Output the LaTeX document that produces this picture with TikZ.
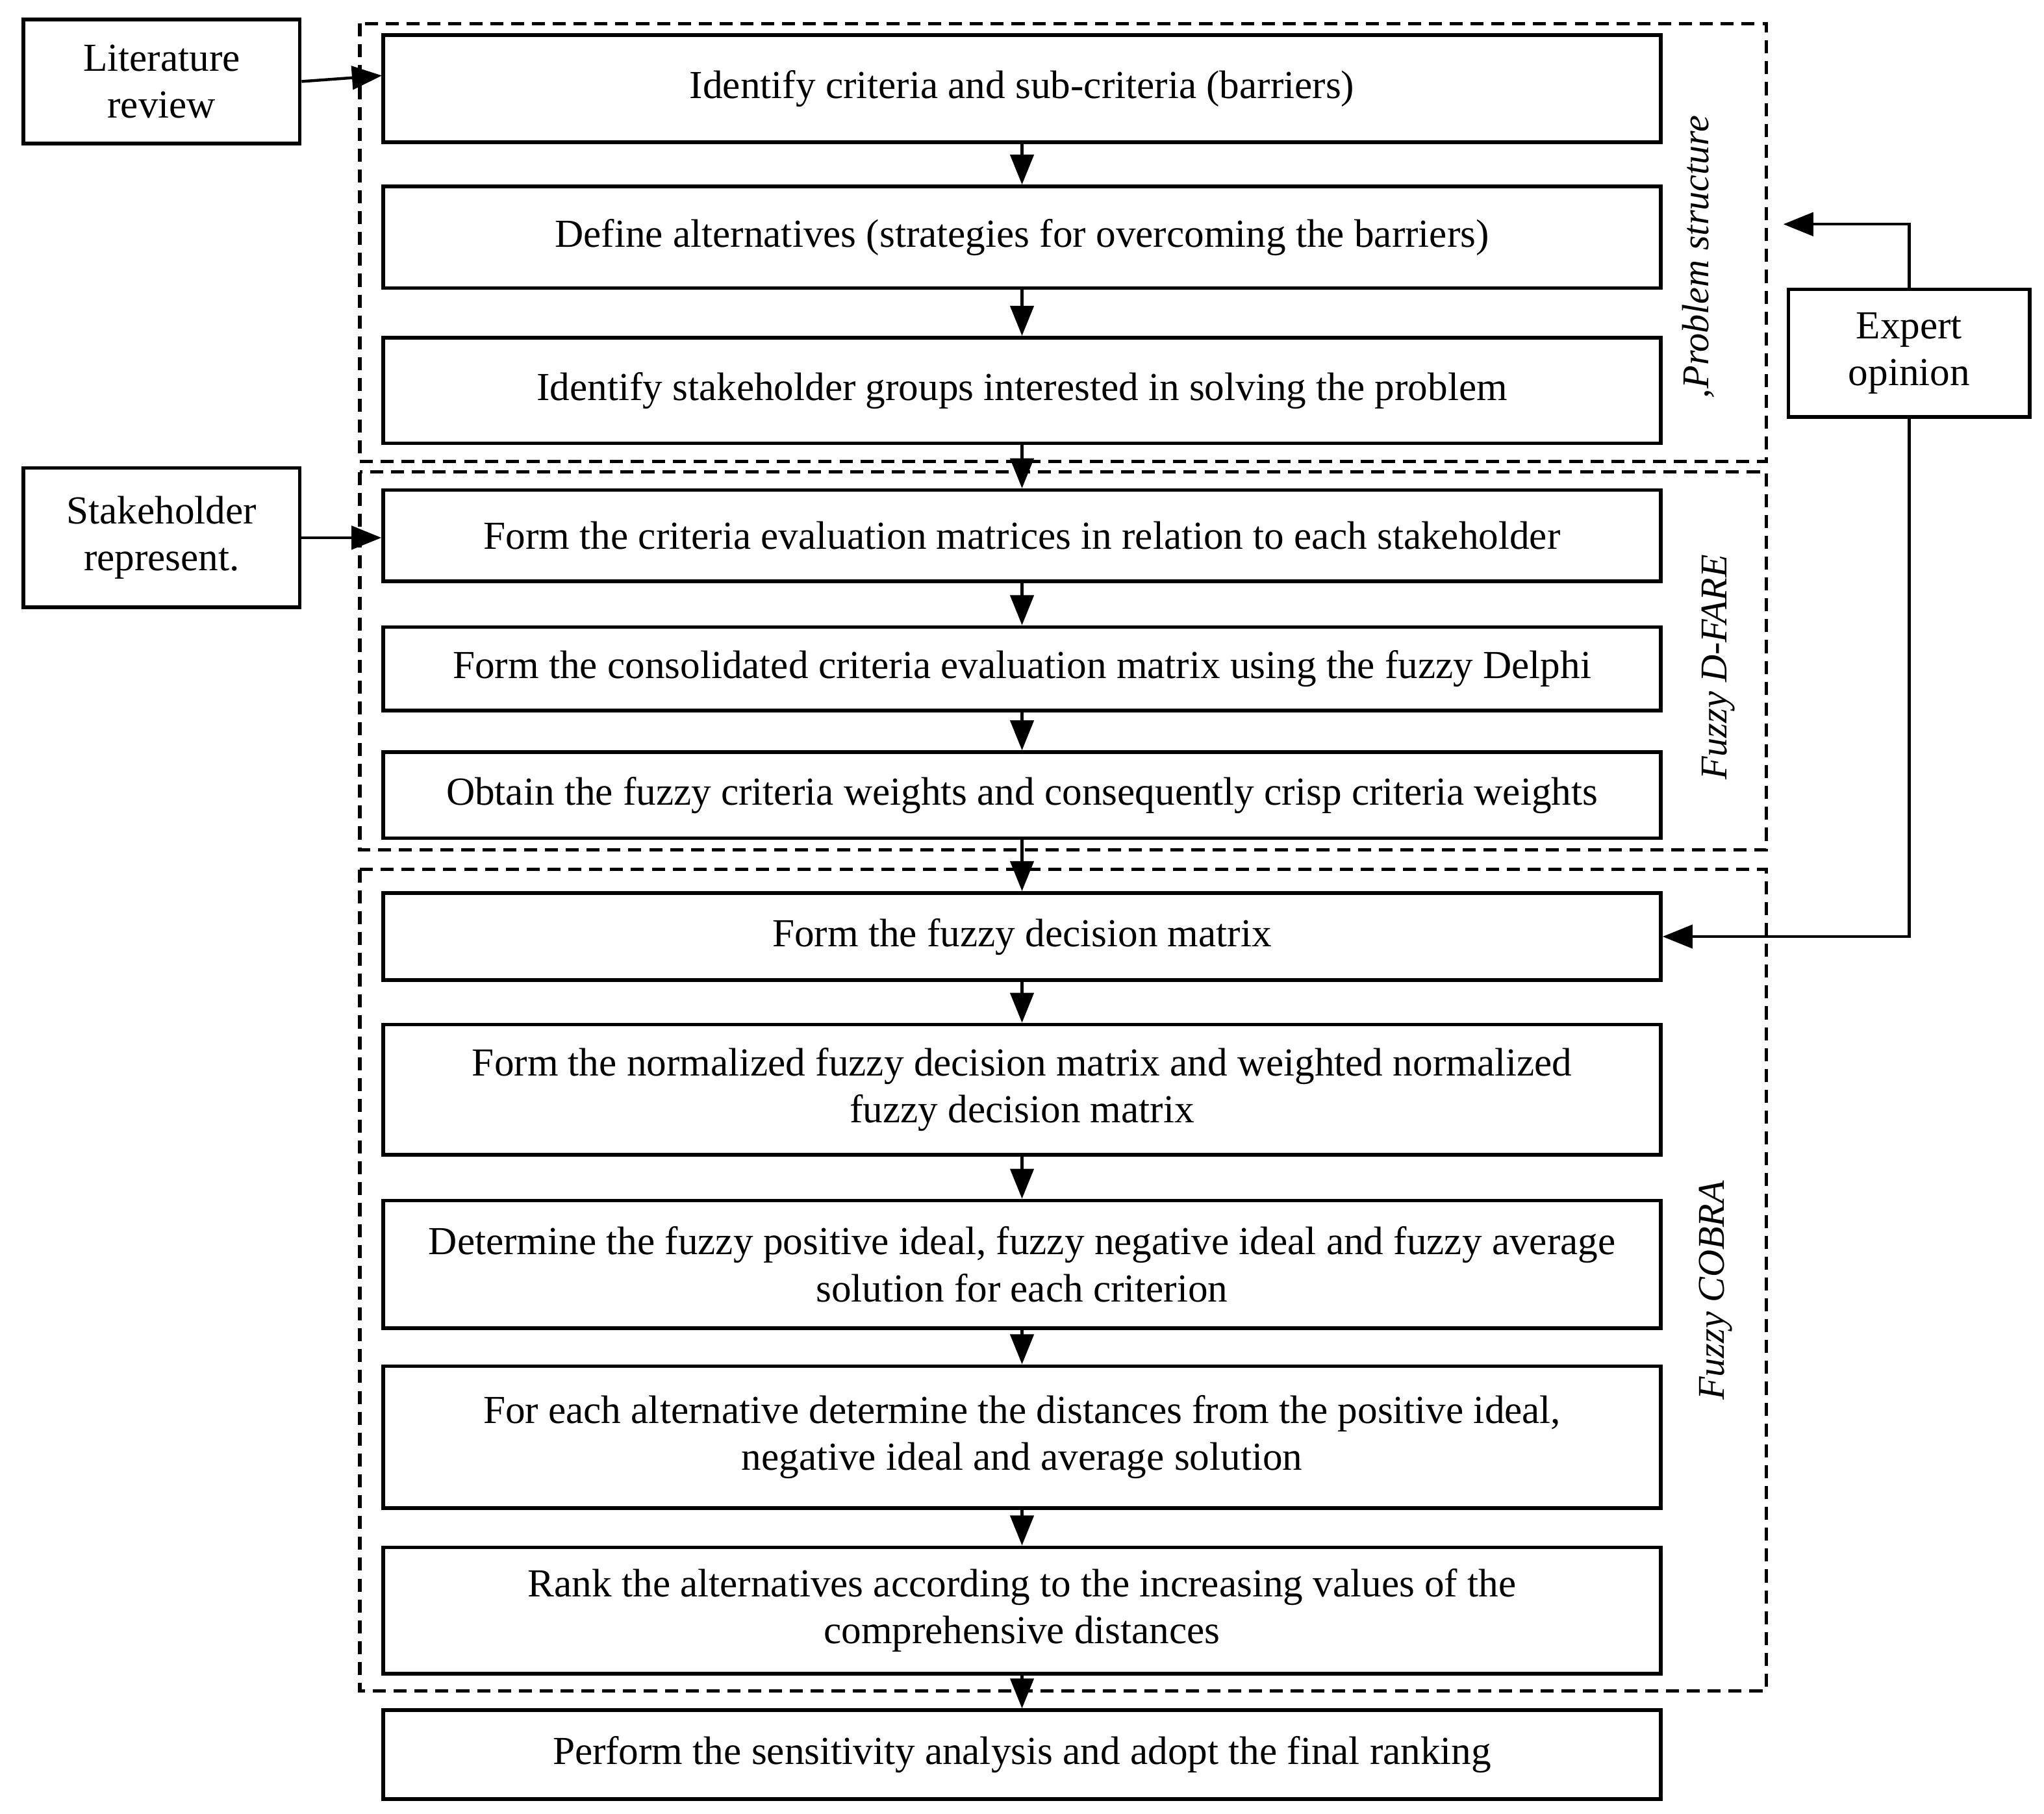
\documentclass[tikz,border=0pt]{standalone}
\usepackage{fontspec}
\setmainfont{Liberation Serif}
\usetikzlibrary{arrows.meta,calc}
\begin{document}
\begin{tikzpicture}[x=1pt,y=-1pt,
  txt/.style={font=\fontsize{30.5}{36}\selectfont},
  box/.style={draw, line width=2.8pt, minimum width=980pt, align=center, inner sep=0pt, txt},
  side/.style={draw, line width=2.8pt, align=center, inner sep=0pt, txt},
  grp/.style={draw, line width=2.6pt, dash pattern=on 10pt off 6pt},
  arr/.style={line width=2.2pt, -{Triangle[length=23pt,width=18pt]}},
  lbl/.style={rotate=90, font=\fontsize{29}{35}\selectfont\itshape}]
\useasboundingbox (0,0) rectangle (1568,1391.6);
% groups
\draw[grp] (276,18) rectangle (1355,354);
\draw[grp] (276,362) rectangle (1355,652);
\draw[grp] (276,667) rectangle (1355,1297);
\node[lbl] (l1) at (1303,197) {,Problem structure};
\node[lbl] (l2) at (1318,512) {Fuzzy D-FARE};
\node[lbl] (l3) at (1316,990) {Fuzzy COBRA};
% main boxes
\node[box, minimum height=82pt] (b1) at (784,68) {Identify criteria and sub-criteria (barriers)};
\node[box, minimum height=78pt] (b2) at (784,182) {Define alternatives (strategies for overcoming the barriers)};
\node[box, minimum height=81pt] (b3) at (784,299.5) {Identify stakeholder groups interested in solving the problem};
\node[box, minimum height=70pt] (b4) at (784,411) {Form the criteria evaluation matrices in relation to each stakeholder};
\node[box, minimum height=64pt] (b5) at (784,513) {Form the consolidated criteria evaluation matrix using the fuzzy Delphi};
\node[box, minimum height=66pt] (b6) at (784,610) {Obtain the fuzzy criteria weights and consequently crisp criteria weights};
\node[box, minimum height=67pt] (b7) at (784,718.5) {Form the fuzzy decision matrix};
\node[box, minimum height=100pt] (b8) at (784,836) {Form the normalized fuzzy decision matrix and weighted normalized\\fuzzy decision matrix};
\node[box, minimum height=98pt] (b9) at (784,970) {Determine the fuzzy positive ideal, fuzzy negative ideal and fuzzy average\\solution for each criterion};
\node[box, minimum height=109pt] (b10) at (784,1102.5) {For each alternative determine the distances from the positive ideal,\\negative ideal and average solution};
\node[box, minimum height=97pt] (b11) at (784,1235.5) {Rank the alternatives according to the increasing values of the\\comprehensive distances};
\node[box, minimum height=68pt] (b12) at (784,1346) {Perform the sensitivity analysis and adopt the final ranking};
% side boxes
\node[side, minimum width=212pt, minimum height=95pt] (lit) at (124,62.5) {Literature\\review};
\node[side, minimum width=212pt, minimum height=107pt] (stk) at (124,412.5) {Stakeholder\\represent.};
\node[side, minimum width=185pt, minimum height=98pt] (exp) at (1464.5,271) {Expert\\opinion};
% arrows
\draw[arr] (b1) -- (b2);
\draw[arr] (b2) -- (b3);
\draw[arr] (b3) -- (b4);
\draw[arr] (b4) -- (b5);
\draw[arr] (b5) -- (b6);
\draw[arr] (b6) -- (b7);
\draw[arr] (b7) -- (b8);
\draw[arr] (b8) -- (b9);
\draw[arr] (b9) -- (b10);
\draw[arr] (b10) -- (b11);
\draw[arr] (b11) -- (b12);
\coordinate (litend) at (293,58);
\draw[arr] (lit.east) -- (litend);
\draw[arr] (stk.east) -- (stk.east -| b4.west);
\coordinate (expend) at (1368,172);
\draw[arr] (exp.north) |- (expend);
\draw[arr] (exp.south) |- (b7.east);
\end{tikzpicture}
\end{document}
